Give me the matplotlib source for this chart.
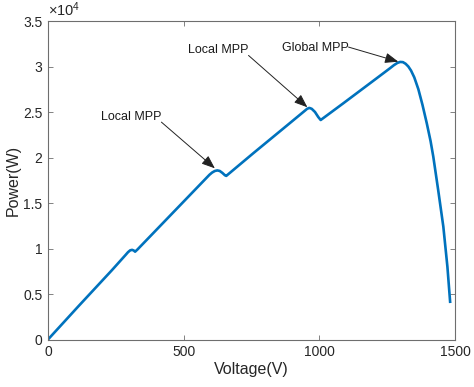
import matplotlib
matplotlib.use("Agg")
import matplotlib.pyplot as plt
from matplotlib.ticker import FuncFormatter

# Data (Voltage in V, Power in W)
voltage = [0, 112, 235, 285, 295, 303, 310, 316, 321, 330,
           595, 605, 615, 624, 633, 643, 652, 657,
           757, 880, 945, 955, 963, 972, 984, 996, 1005,
           1088, 1211, 1260, 1275, 1288, 1298, 1308, 1318, 1328, 1338,
           1350, 1365, 1380, 1396, 1410, 1420, 1438, 1457, 1472, 1482]
power = [0, 3650, 7600, 9260, 9600, 9800, 9850, 9780, 9650, 9900,
         18100, 18350, 18520, 18580, 18520, 18300, 18050, 17980,
         20480, 23500, 25100, 25350, 25450, 25350, 25000, 24450, 24120,
         25950, 28700, 29800, 30150, 30400, 30500, 30480, 30300, 30000, 29550,
         28800, 27500, 25800, 23760, 21800, 20090, 16430, 12400, 8000, 4150]

x_ticks = [0, 500, 1000, 1500]
y_ticks = [0, 5000, 10000, 15000, 20000, 25000, 30000, 35000]
y_scale = 1e4

annot_labels = ["Local MPP", "Local MPP", "Global MPP"]
annot_tips = [(615, 18810), (956, 25520), (1291, 30530)]
annot_text_pos = [(195, 24480), (516, 31810), (861, 32070)]
annot_relpos = [(1.0, 0.05), (1.0, 0.05), (1.0, 0.55)]

plt.rcParams['font.family'] = ['Liberation Sans', 'DejaVu Sans']
plt.rcParams['mathtext.fontset'] = 'custom'
plt.rcParams['mathtext.rm'] = 'Liberation Sans'
plt.rcParams['mathtext.it'] = 'Liberation Sans:italic'

fig = plt.figure(figsize=(4.74, 3.87), dpi=100)
ax = fig.add_axes([48/474, 1-339.5/387, 407/474, 318.5/387])

ax.plot(voltage, power, color='#0072BD', lw=1.9, solid_joinstyle='round')

ax.set_xlim(0, 1500)
ax.set_ylim(0, 35000)
ax.set_xticks(x_ticks)
ax.set_yticks(y_ticks)
ax.yaxis.set_major_formatter(FuncFormatter(lambda v, p: f'{v / y_scale:g}'))
ax.text(0.0, 1.006, r'$\times10^{4}$', transform=ax.transAxes, ha='left',
        va='bottom', fontsize=10.5, color='#262626')

ax.tick_params(direction='in', length=3.5, width=0.6, top=True, right=True,
               labelsize=10, colors='#262626', pad=4)
for sp in ax.spines.values():
    sp.set_color('#6e6e6e')
    sp.set_linewidth(0.8)
ax.tick_params(color='#6e6e6e')

ax.set_xlabel('Voltage(V)', fontsize=11.5, color='#262626', labelpad=2)
ax.set_ylabel('Power(W)', fontsize=11.5, color='#262626', labelpad=2)

for lab, tip, tpos, rp in zip(annot_labels, annot_tips, annot_text_pos, annot_relpos):
    ax.annotate(lab, xy=tip, xytext=tpos, ha='left', va='center', fontsize=9,
                color='#1a1a1a',
                arrowprops=dict(arrowstyle='-|>,head_length=0.9,head_width=0.35',
                                color='#222222', lw=0.7, shrinkA=0, shrinkB=0,
                                relpos=rp, patchA=None))

fig.savefig('out.png', dpi=100)
